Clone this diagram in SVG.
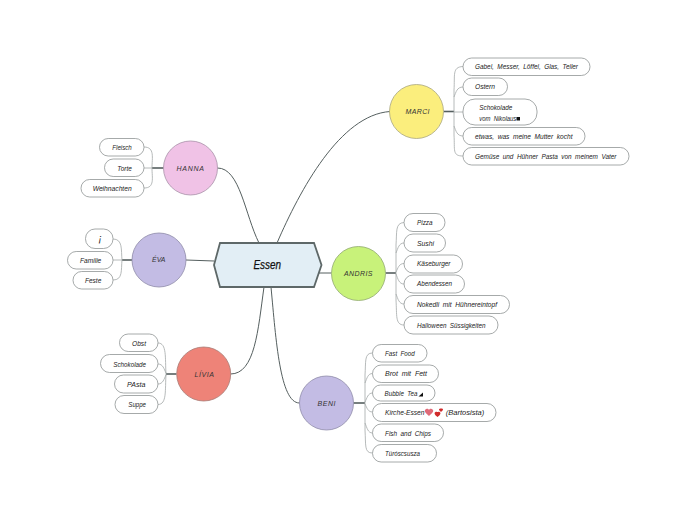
<svg xmlns="http://www.w3.org/2000/svg" width="697" height="520" viewBox="0 0 697 520">
<style>
text{font-family:"Liberation Sans",Arial,sans-serif;font-style:italic;font-size:7.500px;fill:#222;word-spacing:2px}
.p{fill:#fff;stroke:#8f9494;stroke-width:.8}
.t{font-size:7px;fill:#333}
.w{fill:none;stroke:#555f5f;stroke-width:1}
.b{fill:none;stroke:#555f5f;stroke-width:1.600}
.l{fill:none;stroke:#a3a8a8;stroke-width:.8}
</style>
<g id="connectors">
<path class="w" d="M277 243C300 190 340 115 390 111.500"/>
<path class="w" d="M318 273H331.500"/>
<path class="w" d="M271 287C276 340 280 403 299.500 403"/>
<path class="w" d="M259 243C245 215 240 168 217.500 168"/>
<path class="w" d="M186 260L214 261"/>
<path class="w" d="M264 287C258 330 255 374 230.500 374"/>
<path class="b" d="M443.500 111.500H454"/>
<path class="l" d="M463 66.500C452 67 455 75 454 90V135C455 150 452 156 463 156M463 87C457 87 456 92 454 97M463 112H454M463 136C457 136 456 131 454 126"/>
<path class="b" d="M385.500 273H396"/>
<path class="l" d="M404 222.500C395 223 397 232 396 245V300C397 315 395 325 404 325M404 243C399 243 398 248 396 253M404 263.500C399 263.500 398 268 396 272M404 284C399 284 398 279 396 274M404 304C399 304 398 299 396 294"/>
<path class="b" d="M353.500 403H365"/>
<path class="l" d="M372.500 353C364 353 366 362 365 375V430C366 445 364 453 372.500 453M372.500 373.500C368 373.500 367 378 365 383M372.500 393C368 393 367 398 365 402M372.500 412C368 412 367 408 365 404M372.500 433C368 433 367 428 365 423"/>
<path class="b" d="M163.500 168H152"/>
<path class="l" d="M144 147C155 147 152 158 152 168C152 178 155 188 144 188M144 168H152"/>
<path class="b" d="M132 260H122"/>
<path class="l" d="M113 239C123 239 121 250 122 260C121 270 123 280 113 280M113 260H122"/>
<path class="b" d="M176.500 374H166"/>
<path class="l" d="M158 343C167 343 165 358 166 374C165 390 167 404.500 158 404.500M158 364C163 364 164 369 166 373M158 384C163 384 164 379 166 375"/>
</g>
<g id="root"><polygon points="220,243 314,243 321.500,265 314,287 220,287 214,265" fill="#e2eef5" stroke="#5e6868" stroke-width="1.800"/><text x="253.500" y="269" textLength="27.500" lengthAdjust="spacingAndGlyphs" style="font-size:12px;fill:#111;stroke:#111;stroke-width:.25">Essen</text></g>
<g id="marci"><circle cx="416.500" cy="111.500" r="27" fill="#fbee7d" stroke="#a8a680" stroke-width=".8"/><text class="t" x="405.500" y="114" textLength="24">MARCI</text></g>
<g id="andris"><circle cx="358.500" cy="273.500" r="27" fill="#c8f27a" stroke="#90a870" stroke-width=".8"/><text class="t" x="344" y="276" textLength="28.500">ANDRIS</text></g>
<g id="beni"><circle cx="326.500" cy="403" r="27" fill="#c3bce4" stroke="#8e8aa8" stroke-width=".8"/><text class="t" x="317.500" y="405.500" textLength="18">BENI</text></g>
<g id="hanna"><circle cx="190.500" cy="168" r="27" fill="#f0c2e6" stroke="#a890a8" stroke-width=".8"/><text class="t" x="176.500" y="170.500" textLength="27.500">HANNA</text></g>
<g id="eva"><circle cx="159" cy="260" r="27" fill="#c3bce4" stroke="#8e8aa8" stroke-width=".8"/><text class="t" x="152" y="262" textLength="13.500" lengthAdjust="spacingAndGlyphs">ÉVA</text></g>
<g id="livia"><circle cx="203.700" cy="374" r="27" fill="#ee8378" stroke="#a87a74" stroke-width=".8"/><text class="t" x="194.500" y="376.500" textLength="19.500">LÍVIA</text></g>
<g id="m1"><rect class="p" x="463" y="58" width="127" height="17.500" rx="8.700"/><text x="475" y="69" textLength="103" lengthAdjust="spacingAndGlyphs">Gabel, Messer, Löffel, Glas, Teller</text></g>
<g id="m2"><rect class="p" x="463" y="78" width="44.500" height="17.500" rx="8.700"/><text x="475" y="89" textLength="20" lengthAdjust="spacingAndGlyphs">Ostern</text></g>
<g id="m3"><rect class="p" x="463" y="99" width="74" height="26" rx="12"/><text x="479.300" y="110" textLength="33" lengthAdjust="spacingAndGlyphs">Schokolade</text><text x="479.300" y="121" textLength="37" lengthAdjust="spacingAndGlyphs">vom Nikolaus</text><rect x="516.500" y="117" width="3.500" height="3.500" fill="#111"/></g>
<g id="m4"><rect class="p" x="463" y="127.500" width="122" height="17.500" rx="8.700"/><text x="475" y="138.500" textLength="97.500" lengthAdjust="spacingAndGlyphs">etwas, was meine Mutter kocht</text></g>
<g id="m5"><rect class="p" x="463" y="147.500" width="166" height="17.500" rx="8.700"/><text x="475" y="158.500" textLength="141.500" lengthAdjust="spacingAndGlyphs">Gemüse und Hühner Pasta von meinem Vater</text></g>
<g id="a1"><rect class="p" x="404" y="213.500" width="41" height="18" rx="9"/><text x="417" y="225" textLength="15.500" lengthAdjust="spacingAndGlyphs">Pizza</text></g>
<g id="a2"><rect class="p" x="404" y="234" width="41.500" height="18" rx="9"/><text x="417" y="245.500" textLength="17" lengthAdjust="spacingAndGlyphs">Sushi</text></g>
<g id="a3"><rect class="p" x="404" y="255" width="58.500" height="18" rx="9"/><text x="417" y="266" textLength="33.500" lengthAdjust="spacingAndGlyphs">Käseburger</text></g>
<g id="a4"><rect class="p" x="404" y="275" width="60.500" height="18" rx="9"/><text x="417" y="286" textLength="35" lengthAdjust="spacingAndGlyphs">Abendessen</text></g>
<g id="a5"><rect class="p" x="404" y="295.500" width="105.500" height="18" rx="9"/><text x="417" y="307" textLength="80" lengthAdjust="spacingAndGlyphs">Nokedli mit Hühnereintopf</text></g>
<g id="a6"><rect class="p" x="404" y="316" width="94" height="18" rx="9"/><text x="417" y="327.500" textLength="68.500" lengthAdjust="spacingAndGlyphs">Halloween Süssigkeiten</text></g>
<g id="b1"><rect class="p" x="372.500" y="344.500" width="54.500" height="17.500" rx="8.700"/><text x="385" y="355.500" textLength="29.700" lengthAdjust="spacingAndGlyphs">Fast Food</text></g>
<g id="b2"><rect class="p" x="372.500" y="365" width="66" height="17.500" rx="8.700"/><text x="385" y="376" textLength="42" lengthAdjust="spacingAndGlyphs">Brot mit Fett</text></g>
<g id="b3"><rect class="p" x="372.500" y="385" width="62.500" height="16" rx="8"/><text x="384.500" y="396" textLength="33" lengthAdjust="spacingAndGlyphs">Bubble Tea</text><path d="M418.500 396.500L423 392.500V396.500Z" fill="#111"/></g>
<g id="b4"><rect class="p" x="372.500" y="403.500" width="123.500" height="18" rx="9"/><text x="385" y="415" textLength="39.500" lengthAdjust="spacingAndGlyphs">Kirche-Essen</text><path d="M425 410c1.500-2 3.500-1 4 0c.5-1 2.500-2 4 0c1 2-2 4-4 6c-2-2-5-4-4-6Z" fill="#e06a78"/><path d="M434.500 413c1-2 3-1 3-1s2-1 3 1c0 2-2 3-3 4c-1-1-3-2-3-4ZM439 409c1-1 2-.5 2-.5s1.500-.5 2 .5c0 1.500-1 2-2 3c-1-1-2-1.500-2-3Z" fill="#d02a2a"/><text x="445.700" y="415" textLength="38.500" lengthAdjust="spacingAndGlyphs">(Bartosista)</text></g>
<g id="b5"><rect class="p" x="372.500" y="424" width="71" height="17.500" rx="8.700"/><text x="385" y="435.500" textLength="46" lengthAdjust="spacingAndGlyphs">Fish and Chips</text></g>
<g id="b6"><rect class="p" x="372.500" y="444.500" width="64" height="17.500" rx="8.700"/><text x="385" y="455.500" textLength="35" lengthAdjust="spacingAndGlyphs">Túróscsusza</text></g>
<g id="h1"><rect class="p" x="99.500" y="138.500" width="44.500" height="17.500" rx="8.700"/><text x="112.300" y="150" textLength="19.500" lengthAdjust="spacingAndGlyphs">Fleisch</text></g>
<g id="h2"><rect class="p" x="104.500" y="159" width="39.500" height="17.500" rx="8.700"/><text x="117.300" y="170.500" textLength="14.500" lengthAdjust="spacingAndGlyphs">Torte</text></g>
<g id="h3"><rect class="p" x="81" y="179.500" width="63" height="17.500" rx="8.700"/><text x="92.700" y="190.500" textLength="39" lengthAdjust="spacingAndGlyphs">Weihnachten</text></g>
<g id="e1"><rect class="p" x="85.500" y="229" width="27.500" height="19.500" rx="9.500"/><text x="98.500" y="242" style="font-size:10px">¡</text></g>
<g id="e2"><rect class="p" x="67.500" y="251.500" width="45.500" height="17.500" rx="8.700"/><text x="80" y="262.500" textLength="21.300" lengthAdjust="spacingAndGlyphs">Familie</text></g>
<g id="e3"><rect class="p" x="73" y="271.500" width="40" height="17.500" rx="8.700"/><text x="85" y="283" textLength="16.300" lengthAdjust="spacingAndGlyphs">Feste</text></g>
<g id="l1"><rect class="p" x="119.500" y="334" width="38.500" height="17.500" rx="8.700"/><text x="132" y="345.500" textLength="14" lengthAdjust="spacingAndGlyphs">Obst</text></g>
<g id="l2"><rect class="p" x="100.500" y="354.500" width="57.500" height="18" rx="9"/><text x="113.300" y="366.500" textLength="32.700" lengthAdjust="spacingAndGlyphs">Schokolade</text></g>
<g id="l3"><rect class="p" x="114.500" y="375" width="43.500" height="18" rx="9"/><text x="127" y="386.500" textLength="18.300" lengthAdjust="spacingAndGlyphs">PAsta</text></g>
<g id="l4"><rect class="p" x="115" y="395.500" width="43" height="18" rx="9"/><text x="128.300" y="407" textLength="17.700" lengthAdjust="spacingAndGlyphs">Suppe</text></g>
</svg>
